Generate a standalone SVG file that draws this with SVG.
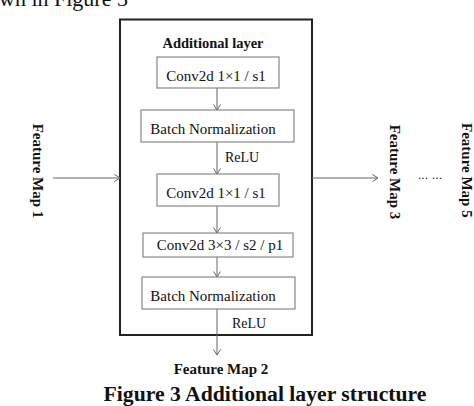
<svg xmlns="http://www.w3.org/2000/svg" width="474" height="406" viewBox="0 0 474 406">
<defs>
<marker id="arr" markerUnits="userSpaceOnUse" markerWidth="10" markerHeight="10" refX="6" refY="4" orient="auto">
<path d="M0.5,0.5 L6,4 L0.5,7.5" fill="none" stroke="#666" stroke-width="1"/>
</marker>
<style>
text{font-family:"Liberation Serif","Times New Roman",serif;fill:#111}
.b{font-weight:bold}
.box{fill:#fff;stroke:#888;stroke-width:1.2}
.lbl{font-size:15px;text-anchor:middle}
.fm{font-size:15px;font-weight:bold;text-anchor:middle}
.con{stroke:#666;stroke-width:1;fill:none;marker-end:url(#arr)}
</style>
</defs>
<rect width="474" height="406" fill="#fff"/>
<text x="-1" y="6" style="font-size:22px">wn in Figure 3</text>
<g id="outer"><rect x="120" y="19.5" width="192" height="315.5" fill="none" stroke="#222" stroke-width="2"/>
<text x="213" y="48" class="b" style="font-size:14.5px;text-anchor:middle">Additional layer</text></g>
<g id="connectors">
<line class="con" x1="217" y1="88" x2="217" y2="110"/>
<line class="con" x1="217" y1="142" x2="217" y2="174"/>
<line class="con" x1="217" y1="206" x2="217" y2="233"/>
<line class="con" x1="217" y1="257" x2="217" y2="277"/>
<line class="con" x1="217" y1="309" x2="217" y2="355"/>
<line class="con" x1="53" y1="178" x2="120" y2="178"/>
<line class="con" x1="312" y1="178" x2="378" y2="178"/>
<text x="225" y="162" style="font-size:14px">ReLU</text>
<text x="232" y="328" style="font-size:14px">ReLU</text>
</g>
<g id="conv1"><rect class="box" x="157" y="57" width="122" height="31"/><text class="lbl" x="216" y="81">Conv2d 1×1 / s1</text></g>
<g id="bn1"><rect class="box" x="141" y="110" width="153" height="32"/><text class="lbl" x="213" y="134">Batch Normalization</text></g>
<g id="conv2"><rect class="box" x="157" y="174" width="122" height="32"/><text class="lbl" x="216" y="198">Conv2d 1×1 / s1</text></g>
<g id="conv3"><rect class="box" x="143" y="233" width="150" height="24"/><text class="lbl" x="220" y="250">Conv2d 3×3 / s2 / p1</text></g>
<g id="bn2"><rect class="box" x="142" y="277" width="153" height="32"/><text class="lbl" x="213" y="301">Batch Normalization</text></g>
<g id="fm1"><text class="fm" transform="translate(33,171) rotate(90)">Feature Map 1</text></g>
<g id="fm2"><text class="fm" x="221" y="374">Feature Map 2</text></g>
<g id="fm3"><text class="fm" transform="translate(390,172) rotate(90)">Feature Map 3</text></g>
<g id="dots"><text x="418" y="179" style="font-size:12px;letter-spacing:0.5px">... ...</text></g>
<g id="fm5"><text class="fm" transform="translate(462,123) rotate(90)" style="text-anchor:start">Feature Map 5</text></g>
<text x="265" y="401" class="b" style="font-size:21.7px;text-anchor:middle">Figure 3 Additional layer structure</text>
</svg>
